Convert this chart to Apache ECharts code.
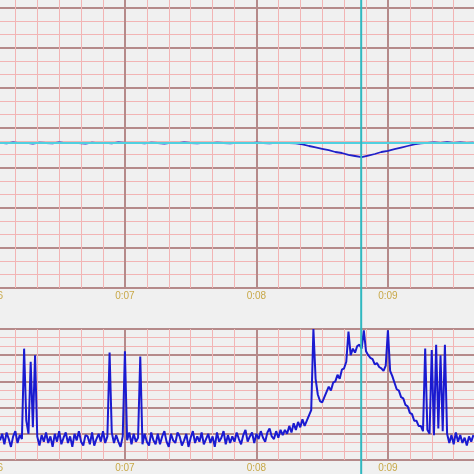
<!DOCTYPE html>
<html><head><meta charset="utf-8">
<script src="https://cdn.jsdelivr.net/npm/echarts@6/dist/echarts.min.js"></script>
<style>html,body{margin:0;padding:0;background:#f0f0f0}#c{width:474px;height:474px}</style>
</head><body><div id="c"></div>
<script>
// time in seconds from 0:00; first sample at 363 s
const startSec = 363;
const ucStep = 1;
const ucValues = [
15,20,12,21,16,10,18,22,13,19,
16,85,30,20,75,25,80,18,11,19,
14,21,13,18,10,20,14,22,12,17,
21,13,18,10,20,15,22,14,11,19,
18,12,21,11,16,20,14,22,13,18,
82,21,13,19,14,10,18,83,15,21,
12,20,14,17,79,12,20,14,11,21,
15,12,20,12,18,22,14,10,20,15,
13,21,18,11,15,20,10,17,22,13,
18,14,21,12,16,20,13,18,10,21,
14,17,22,12,19,13,18,14,21,16,
12,19,23,14,18,21,13,20,16,22,
17,14,21,24,18,16,22,17,23,19,
23,20,26,21,28,23,29,25,31,26,
30,34,38,100,62,50,45,44,48,52,
56,53,59,60,65,62,69,70,75,98,
80,85,82,87,88,85,99,83,80,78,
77,73,74,71,70,68,72,99,68,64,
59,54,53,48,47,42,41,36,35,30,
30,26,26,22,85,23,20,84,19,88,
24,80,22,88,20,13,19,12,21,14,
19,13,17,11,18,14,19];
const fhrStep = 3;
const fhrValues = [
122.6,122.3,122.8,122.4,122.6,122.2,122.7,122.5,122.3,122.8,
122.4,122.6,122.5,122.2,122.7,122.4,122.6,122.3,122.8,122.5,
122.4,122.6,122.3,122.7,122.5,122.2,122.6,122.4,122.8,122.5,
122.3,122.6,122.4,122.7,122.5,122.3,122.6,122.5,122.4,122.7,
122.5,122.3,122.6,122.4,122.5,122.3,121.8,121.0,120.3,119.6,
118.9,118.0,117.5,116.6,116.0,115.4,116.2,117.0,118.0,118.6,
119.4,120.2,121.0,121.8,122.3,122.6,122.8,122.5,122.9,122.6,
122.8,122.5,122.7];
const baselineFHR = 122.5;
const cursorSec = 527.8;
const tickLabels = {360:'0:06',420:'0:07',480:'0:08',540:'0:09',600:'0:10'};

const uc = ucValues.map((v,i)=>[startSec+i*ucStep, v]);
const fhr = fhrValues.map((v,i)=>[startSec+i*fhrStep, v]);

const pxPerSec = 131.5/60;
const gl = -(startSec-360)*pxPerSec;
const gw = 240*pxPerSec;
const major = {show:true,lineStyle:{color:'#b58a8a',width:2}};
const minor = {show:true,lineStyle:{color:'#f2b4b4',width:1}};
function xAx(gi){return {type:'value',gridIndex:gi,min:360,max:600,interval:60,
  axisLine:{show:false},axisTick:{show:false},
  axisLabel:{color:'#c8a848',fontSize:10,margin:3,formatter:v=>tickLabels[v]||''},
  splitLine:major,minorTick:{show:false,splitNumber:6},minorSplitLine:minor};}
function yAx(gi,mn,mx,iv,ms){return {type:'value',gridIndex:gi,min:mn,max:mx,interval:iv,
  axisLine:{show:false},axisTick:{show:false},axisLabel:{show:false},
  splitLine:major,minorTick:{show:false,splitNumber:ms},minorSplitLine:minor};}
const chart = echarts.init(document.getElementById('c'));
chart.setOption({
  backgroundColor:'#f0f0f0',animation:false,
  grid:[{left:gl,width:gw,top:-32,height:320,containLabel:false,outerBoundsMode:'none'},
        {left:gl,width:gw,top:329,height:131,containLabel:false,outerBoundsMode:'none'}],
  xAxis:[xAx(0),xAx(1)],
  yAxis:[yAx(0,50,210,20,3),yAx(1,0,100,20,3)],
  series:[
    {type:'line',xAxisIndex:0,yAxisIndex:0,data:fhr,showSymbol:false,
     lineStyle:{color:'#2020c8',width:1.8},
     markLine:{silent:true,symbol:'none',label:{show:false},
       data:[{yAxis:baselineFHR,lineStyle:{color:'#50d0e0',width:2,type:'solid'}}]}},
    {type:'line',xAxisIndex:1,yAxisIndex:1,data:uc,showSymbol:false,
     lineStyle:{color:'#1a1ad0',width:2}}
  ]
});
const cx = chart.convertToPixel({xAxisIndex:0}, cursorSec);
chart.setOption({graphic:[{type:'line',shape:{x1:cx,y1:0,x2:cx,y2:474},
  style:{stroke:'#30b8c0',lineWidth:2},z:100}]});
</script></body></html>
